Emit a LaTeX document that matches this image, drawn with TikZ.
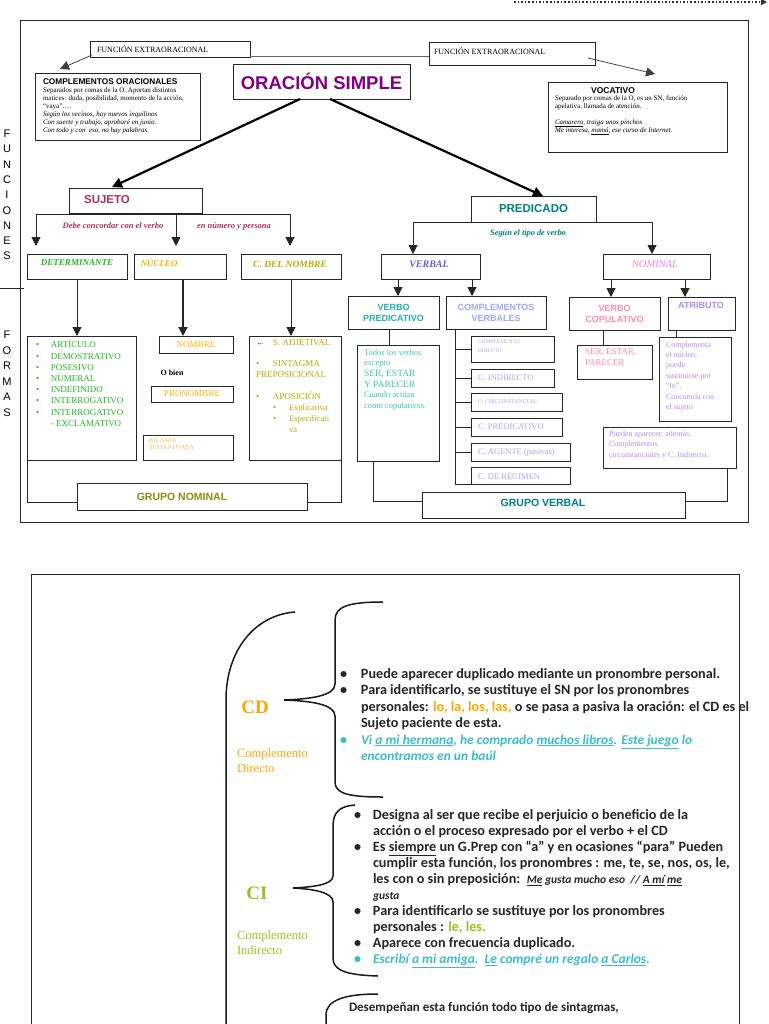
\documentclass[tikz,border=0pt]{standalone}
\usepackage{fontspec}
\setmainfont{Liberation Serif}
\newfontfamily\sansf{Liberation Sans}
\newfontfamily\calib{Carlito}
\usetikzlibrary{arrows.meta}
\newcommand\fsz[2]{\fontsize{#1}{#2}\selectfont}
\definecolor{ospurple}{HTML}{800080}
\definecolor{sujcol}{HTML}{B0305A}
\definecolor{detgreen}{HTML}{22B822}
\definecolor{nucorange}{HTML}{FFB000}
\definecolor{cdncol}{HTML}{BBAA00}
\definecolor{gncol}{HTML}{8C8C10}
\definecolor{tealc}{HTML}{008080}
\definecolor{verbalc}{HTML}{6A5ACD}
\definecolor{nominalc}{HTML}{EE82EE}
\definecolor{vpcol}{HTML}{20B2AA}
\definecolor{todoscol}{HTML}{3CC3C3}
\definecolor{cvcol}{HTML}{A0A8FF}
\definecolor{compcol}{HTML}{A8A8F4}
\definecolor{pinkc}{HTML}{FF8CA8}
\definecolor{atrcol}{HTML}{B08CF0}
\definecolor{cdorange}{HTML}{FFA500}
\definecolor{cigreen}{HTML}{99C31C}
\definecolor{tealit}{HTML}{3CBDC8}
\definecolor{palcol}{HTML}{FFB84D}
\begin{document}
\begin{tikzpicture}[x=1pt,y=-1pt,
  box/.style={draw=black!85, line width=0.75pt, inner sep=0pt, outer sep=0pt, anchor=north west, rectangle},
  txt/.style={inner sep=0pt, outer sep=0pt},
  conn/.style={draw=black!85, line width=0.75pt},
  medarr/.style={conn, line width=1pt, -{Triangle[length=9pt,width=9pt]}},
  smallarr/.style={conn, -{Triangle[length=9pt,width=9pt]}},
  bigarr/.style={draw=black, line width=2.2pt, -{Triangle[length=10pt,width=10pt]}},
  brace/.style={draw=black!90, line width=1.5pt},
  frame/.style={draw=black!85, line width=0.9pt}]
\useasboundingbox (0,0) rectangle (768,1024);
\fill[white] (0,0) rectangle (768,1024);

% ===== top panel =====
\draw[frame] (20,20) rectangle (748,522);
\draw[line width=1.6pt, dotted, draw=black!80, -{Triangle[length=6pt,width=6pt]}] (514,2) -- (767,2);

\node[txt, anchor=north, align=center, font=\sansf\fsz{11}{15.3}] (fun) at (7,130) {F\\U\\N\\C\\I\\O\\N\\E\\S};
\node[txt, anchor=north, align=center, font=\sansf\fsz{11}{15.6}] (for) at (7,331) {F\\O\\R\\M\\A\\S};
\draw[conn] (0,288) -- (24,288);

% extraoracional
\node[box, minimum width=160pt, minimum height=16pt] (fe1) at (90,41) {};
\node[txt, anchor=west, font=\fsz{8}{9}] (fe1t) at (97,49.5) {FUNCIÓN EXTRAORACIONAL};
\node[box, minimum width=166pt, minimum height=23pt] (fe2) at (429,42) {};
\node[txt, anchor=west, font=\fsz{8}{9}] (fe2t) at (434,51) {FUNCIÓN EXTRAORACIONAL};
\draw[conn, draw=black!60] ([yshift=-7pt]fe1.east) -- ([yshift=-2.5pt]fe2.west);

% complementos oracionales
\node[box, minimum width=165pt, minimum height=67pt] (comp) at (35,73) {};
\node[txt, anchor=west, font=\sansf\bfseries\fsz{8.3}{10}] (compT) at (43,82) {COMPLEMENTOS ORACIONALES};
\node[txt, anchor=north west, align=left, font=\fsz{7}{8.1}] (compt) at (43,87.5) {Separados por comas de la O. Aportan distintos\\ matices: duda, posibilidad, momento de la acción,\\ “vaya”….\\ \textit{Según los vecinos, hay nuevos inquilinos}\\ \textit{Con suerte y trabajo, aprobaré en junio.}\\ \textit{Con todo y con\ \ eso, no hay palabras.}};
\draw[smallarr, draw=black!75] ([xshift=2pt,yshift=-14pt]fe1.north west) -- ([xshift=25pt,yshift=4pt]comp.north west);

% vocativo
\node[box, minimum width=179pt, minimum height=70pt] (voc) at (548,82) {};
\node[txt, font=\sansf\bfseries\fsz{8.5}{10}] (vocT) at (613,91) {VOCATIVO};
\node[txt, anchor=north west, align=left, font=\fsz{7}{8}] (voct) at (555,95.5) {Separado por comas de la O, es un SN, función\\ apelativa, llamada de atención.\\[8pt] \textit{\underline{Camarero}, traiga unos pinchos}\\ \textit{Me interesa, \underline{mamá}, ese curso de Internet.}};
\draw[smallarr, draw=black!75] ([xshift=-7pt,yshift=-4.5pt]fe2.east) -- ([xshift=17.5pt,yshift=8pt]voc.north);

% oracion simple
\node[box, minimum width=177pt, minimum height=35pt, font=\sansf\bfseries\fsz{18.5}{20}, text=ospurple] (os) at (233,64) {ORACIÓN SIMPLE};

% sujeto
\node[box, minimum width=133pt, minimum height=25pt] (suj) at (69,188) {};
\node[txt, font=\sansf\bfseries\fsz{11.5}{13}, text=sujcol] (sujt) at (107,200) {SUJETO};
\draw[bigarr] ([xshift=-21.5pt]os.south) -- ([xshift=-23.5pt,yshift=1pt]suj.north);

\coordinate (sbL) at (36,214); \coordinate (sbM) at (176,214); \coordinate (sbR) at (290,214);
\coordinate (stL) at (36,246); \coordinate (stM) at (176,246); \coordinate (stR) at (290,246);
\draw[conn] (sbL) -- (sbR);
\draw[medarr] (sbL) -- (stL);
\draw[medarr] (sbM) -- (stM);
\draw[medarr] (sbR) -- (stR);
\node[txt, font=\bfseries\itshape\fsz{8.5}{10}, text=sujcol] (conc1) at (113,226) {Debe concordar con el verbo};
\node[txt, font=\bfseries\itshape\fsz{8.5}{10}, text=sujcol] (conc2) at (234,226) {en número y persona};

\node[box, minimum width=100pt, minimum height=25pt] (det) at (27,254) {};
\node[txt, font=\bfseries\itshape\fsz{9}{10}, text=detgreen] (dett) at (77,263) {DETERMINANTE};
\node[box, minimum width=92pt, minimum height=25pt] (nuc) at (134,254) {};
\node[txt, font=\bfseries\itshape\fsz{9}{10}, text=nucorange] (nuct) at (159,263) {NÚCLEO};
\node[box, minimum width=100pt, minimum height=25pt] (cdn) at (241,254) {};
\node[txt, font=\bfseries\itshape\fsz{9.5}{10}, text=cdncol] (cdnt) at (290,264) {C. DEL NOMBRE};

% lists
\node[box, minimum width=109pt, minimum height=124pt] (detl) at (27,336) {};
\node[txt, anchor=north west, font=\fsz{9}{11.2}, text=detgreen] (detlt) at (36,340) {\begin{tabular}{@{}l@{}l@{}}\makebox[15pt][l]{•} & ARTÍCULO\\ • & DEMOSTRATIVO\\ • & POSESIVO\\ • & NUMERAL\\ • & INDEFINIDO\\ • & INTERROGATIVO\\ • & INTERROGATIVO\\ & - EXCLAMATIVO\end{tabular}};

\node[box, minimum width=74pt, minimum height=17pt, font=\fsz{9}{10}, text=nucorange] (nom) at (159,336) {NOMBRE};
\node[txt, font=\bfseries\fsz{8}{9}] (obien) at (172,373) {O bien};
\node[box, minimum width=82pt, minimum height=16pt, font=\fsz{9}{10}, text=nucorange] (pron) at (151,386) {PRONOMBRE};
\node[box, minimum width=90pt, minimum height=25pt] (pal) at (143,435) {};
\node[txt, anchor=north west, align=left, font=\fsz{6}{7}, text=palcol] (palt) at (149,439) {PALABRA\\SUSTANTIVADA};

\node[box, minimum width=92pt, minimum height=124pt] (cdnl) at (249,336) {};
\node[txt, anchor=north west, align=left, font=\fsz{9}{10.5}, text=cdncol] (cdnlt) at (256,340) {\makebox[17pt][l]{\color{black!75}←}S. ADJETIVAL\\[10.5pt]
\makebox[17pt][l]{•}SINTAGMA\\
PREPOSICIONAL\\[11.5pt]
\makebox[17pt][l]{•}APOSICIÓN\\[0.5pt]
\hspace{17pt}\makebox[16pt][l]{•}{\fsz{8.5}{10}Explicativa}\\[0.5pt]
\hspace{17pt}\makebox[16pt][l]{•}{\fsz{8.5}{10}Especificati}\\[1pt]
\hspace{33pt}{\fsz{8.5}{10}va}};

\draw[medarr] (det.south) -- (det.south |- detl.north);
\coordinate (nucB) at (183,279); \coordinate (nucT) at (183,336);
\draw[medarr, line width=1.8pt] (nucB) -- (nucT);
\coordinate (cdnB) at (291,279); \coordinate (cdnT) at (291,336);
\draw[medarr] (cdnB) -- (cdnT);

\node[box, minimum width=230pt, minimum height=27pt] (gn) at (77,483) {};
\node[txt, font=\sansf\bfseries\fsz{10.5}{12}, text=gncol] (gnt) at (182,497) {GRUPO NOMINAL};
\draw[conn] (detl.south west) |- ([yshift=-5.5pt]gn.west);
\draw[conn] (cdnl.south east) |- ([yshift=-5.5pt]gn.east);

% predicado
\node[box, minimum width=125pt, minimum height=26pt, font=\sansf\bfseries\fsz{11.5}{13}, text=tealc] (pred) at (471,196) {PREDICADO};
\draw[bigarr] ([xshift=8.5pt]os.south) -- ([xshift=9.5pt]pred.north);
\coordinate (pbL) at (413,222); \coordinate (pbR) at (652,222);
\draw[conn] (pbL) -- (pbR);
\node[txt, font=\bfseries\itshape\fsz{8.3}{10}, text=tealc] (segun) at (528,234) {Según el tipo de verbo};
\node[box, minimum width=99pt, minimum height=25pt] (verbal) at (381,254) {};
\node[txt, font=\bfseries\itshape\fsz{10}{11}, text=verbalc] (verbalt) at (429,264) {VERBAL};
\node[box, minimum width=107pt, minimum height=25pt] (nominal) at (603,254) {};
\node[txt, font=\itshape\fsz{10.5}{11}, text=nominalc] (nominalt) at (655,264) {NOMINAL};
\draw[medarr] (pbL) -- (pbL |- verbal.north);
\draw[medarr] (pbR) -- (pbR |- nominal.north);

\node[box, minimum width=91pt, minimum height=33pt, align=center, font=\sansf\bfseries\fsz{9}{11}, text=vpcol] (vp) at (348,296) {VERBO\\PREDICATIVO};
\node[box, minimum width=100pt, minimum height=33pt, align=center, font=\sansf\bfseries\fsz{9}{11}, text=cvcol] (cv) at (446,296) {COMPLEMENTOS\\VERBALES};
\node[box, minimum width=91pt, minimum height=33pt, align=center, font=\sansf\bfseries\fsz{9}{11}, text=pinkc] (vc) at (569,297) {VERBO\\COPULATIVO};
\node[box, minimum width=67pt, minimum height=33pt] (atr) at (668,297) {};
\node[txt, font=\sansf\bfseries\fsz{9}{10}, text=atrcol] (atrt) at (701,305) {ATRIBUTO};

\coordinate (vbA) at (398,279); \coordinate (vbB) at (472,279);
\draw[medarr] (vbA) -- (vbA |- vp.north);
\draw[medarr] (vbB) -- (vbB |- cv.north);
\coordinate (nbA) at (611,279); \coordinate (nbB) at (685,279);
\draw[medarr] (nbA) -- (nbA |- vc.north);
\draw[medarr] (nbB) -- (nbB |- atr.north);

\node[box, minimum width=82pt, minimum height=116pt] (todos) at (357,345) {};
\node[txt, anchor=north west, align=left, font=\fsz{8.5}{10.6}, text=todoscol] (todost) at (364,349.5) {Todos los verbos\\ excepto\\ {\fsz{9.5}{10.6}SER, ESTAR}\\ {\fsz{9.5}{10.6}Y PARECER}\\ Cuando actúan\\ como copulativos.};
\coordinate (vpB) at (389,329);
\draw[conn] (vpB) -- (vpB |- todos.north);

% complementos verbales
\node[box, minimum width=83pt, minimum height=26pt] (cd) at (471,336) {};
\node[txt, anchor=north west, align=left, font=\fsz{5.5}{8.5}, text=compcol] (cdt) at (478,340) {COMPLEMENTO\\DIRECTO};
\node[box, minimum width=83pt, minimum height=18pt] (ci) at (471,369) {};
\node[txt, anchor=west, font=\fsz{8.5}{10}, text=compcol] (cit) at (478,378) {C. INDIRECTO};
\node[box, minimum width=91pt, minimum height=18pt] (cc) at (471,393) {};
\node[txt, anchor=west, font=\fsz{6}{7}, text=compcol] (cct) at (478,402) {C. CIRCUNSTANCIAL.};
\node[box, minimum width=91pt, minimum height=18pt] (cpred) at (471,418) {};
\node[txt, anchor=west, font=\fsz{8.5}{10}, text=compcol] (cpredt) at (478,427) {C. PREDICATIVO};
\node[box, minimum width=99pt, minimum height=18pt] (cag) at (471,443) {};
\node[txt, anchor=west, font=\fsz{8.5}{10}, text=compcol] (cagt) at (478,452) {C. AGENTE (pasivas)};
\node[box, minimum width=99pt, minimum height=17pt] (creg) at (471,467) {};
\node[txt, anchor=west, font=\fsz{8.5}{10}, text=compcol] (cregt) at (478,475.5) {C. DE RÉGIMEN};
\coordinate (cvA) at (455,329); \coordinate (cvB) at (455,484);
\draw[conn] (cvA) -- (cvB) -- (creg.south west);
\draw[conn] (cvA |- cd.west) -- (cd.west);
\draw[conn] (cvA |- ci.west) -- (ci.west);
\draw[conn] (cvA |- cc.west) -- (cc.west);
\draw[conn] (cvA |- cpred.west) -- (cpred.west);
\draw[conn] (cvA |- cag.west) -- (cag.west);

% nominal side
\node[box, minimum width=75pt, minimum height=34pt] (ser) at (577,345) {};
\node[txt, anchor=north west, align=left, font=\fsz{9}{10.8}, text=pinkc] (sert) at (585,348.5) {SER, ESTAR,\\PARECER};
\coordinate (vcB) at (603,330);
\draw[conn] (vcB) -- (vcB |- ser.north);
\node[box, minimum width=72pt, minimum height=84pt] (compl) at (659,337) {};
\node[txt, anchor=north west, align=left, font=\fsz{8}{10.4}, text=atrcol] (complt) at (666,341.5) {Complementa\\el núcleo,\\puede\\sustituirse por\\“lo”,\\Concuerda con\\el sujeto};
\coordinate (atB) at (676,330);
\draw[conn] (atB) -- (atB |- compl.north);
\node[box, minimum width=133pt, minimum height=41pt] (pueden) at (603,427) {};
\node[txt, anchor=north west, align=left, font=\fsz{8}{10.5}, text=atrcol!85!cvcol] (puedent) at (609,430.5) {Pueden aparecer, además,\\Complementos\\circunstanciales y C. Indirecto.};

\node[box, minimum width=263pt, minimum height=26pt] (gv) at (422,492) {};
\node[txt, font=\sansf\bfseries\fsz{10.5}{12}, text=tealc] (gvt) at (543,503) {GRUPO VERBAL};
\coordinate (tdB) at (373,461);
\draw[conn] (tdB) |- ([yshift=4pt]gv.west);
\coordinate (puB) at (727,468);
\draw[conn] (puB) |- ([yshift=4pt]gv.east);

% ===== bottom panel =====
\node[txt, anchor=base west, font=\calib\bfseries\fsz{14.2}{16.4}, text=black!85] (cdlist) at (340,678.5) {\begin{tabular}[t]{@{}l@{}l@{}}\makebox[21pt][l]{•} & Puede aparecer duplicado mediante un pronombre personal.\\
• & Para identificarlo, se sustituye el SN por los pronombres\\
 & personales: \textcolor{cdorange}{lo, la, los, las,} o se pasa a pasiva la oración: el CD es el\\
 & Sujeto paciente de esta.\\
\textcolor{tealit}{•} & {\color{tealit}\fsz{13.5}{16.4}\itshape Vi \underline{a mi hermana}, he comprado \underline{muchos libros}. \underline{Este juego} lo}\\
 & {\color{tealit}\fsz{13.5}{16.4}\itshape encontramos en un baúl}
\end{tabular}};

\node[txt, anchor=base west, font=\calib\bfseries\fsz{14.2}{16}, text=black!85] (cilist) at (354,819.5) {\begin{tabular}[t]{@{}l@{}l@{}}\makebox[19pt][l]{•} & Designa al ser que recibe el perjuicio o beneficio de la\\
 & acción o el proceso expresado por el verbo + el CD\\
• & Es \underline{siempre} un G.Prep con “a” y en ocasiones “para” Pueden\\
 & cumplir esta función, los pronombres : me, te, se, nos, os, le,\\
 & les con o sin preposición:\ \ {\fsz{11.5}{16}\itshape\underline{Me} gusta mucho eso\ \ // \underline{A mí} \underline{me}}\\
 & {\fsz{11.5}{16}\itshape gusta}\\
• & Para identificarlo se sustituye por los pronombres\\
 & personales : \textcolor{cigreen}{le, les.}\\
• & Aparece con frecuencia duplicado.\\
\textcolor{tealit}{•} & {\color{tealit}\fsz{13.5}{16}\itshape Escribí \underline{a mi amiga}.\ \ \underline{Le} compré un regalo \underline{a Carlos}.}
\end{tabular}};

\node[txt, anchor=base west, font=\calib\bfseries\fsz{13}{15}, text=black!85] (des) at (349,1011) {Desempeñan esta función todo tipo de sintagmas,};

\draw[frame] (31,1030) -- (31,574) -- (739,574) -- (739,1030);

\node[txt, font=\bfseries\fsz{19}{20}, text=cdorange] (cdl) at (255,707) {CD};
\node[txt, anchor=north west, align=left, font=\fsz{12.5}{15}, text=cdorange] (cdsub) at (237,749) {Complemento\\Directo};
\node[txt, font=\bfseries\fsz{19}{20}, text=cigreen] (cil) at (257,893) {CI};
\node[txt, anchor=north west, align=left, font=\fsz{12.5}{15}, text=cigreen] (cisub) at (237,931) {Complemento\\Indirecto};

\draw[brace] (295,612) .. controls (255,615) and (226,650) .. (226,700) -- (226,1030);
\draw[brace] (383,602) .. controls (350,602) and (335,606) .. (335,620) -- (335,684) .. controls (335,696) and (310,699) .. (284,700) .. controls (310,701) and (335,704) .. (335,716) -- (335,782) .. controls (335,794) and (350,797) .. (383,797);
\draw[brace] (355,805) .. controls (340,806) and (333,812) .. (333,826) -- (333,876) .. controls (333,885) and (312,887) .. (293,888) .. controls (312,889) and (333,892) .. (333,902) -- (333,958) .. controls (333,970) and (345,975) .. (378,976);
\draw[brace] (378,994) .. controls (345,994) and (326,1000) .. (326,1015) -- (326,1030);
\end{tikzpicture}
\end{document}
